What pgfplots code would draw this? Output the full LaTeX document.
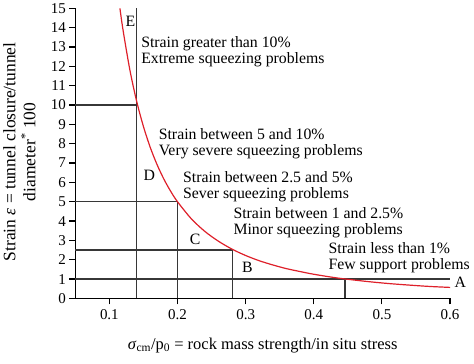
\documentclass[border=0pt]{standalone}
\usepackage{pgfplots}
\pgfplotsset{compat=1.18}
\usepackage{fontspec}
\setmainfont{Liberation Serif}
\definecolor{curvered}{RGB}{222,32,42}
\definecolor{gridgray}{RGB}{55,55,55}
\begin{document}
\begin{tikzpicture}
\begin{axis}[
  scale only axis,
  width=375pt, height=290.3pt,
  xmin=0.05, xmax=0.6, ymin=0, ymax=15,
  axis x line*=bottom, axis y line*=left,
  axis line style={black, line width=1.2pt},
  clip=false,
  xtick={0.1,0.2,0.3,0.4,0.5,0.6},
  ytick={0,1,2,3,4,5,6,7,8,9,10,11,12,13,14,15},
  tick align=outside,
  major tick length=6pt,
  tick style={black, line width=1.2pt},
  /pgf/number format/assume math mode=true,
  xticklabel style={font=\fontsize{15}{15}\selectfont, /pgf/number format/fixed, /pgf/number format/precision=1, yshift=-2pt},
  yticklabel style={font=\fontsize{15}{15}\selectfont},
  xlabel={\textit{σ}\textsubscript{cm}/p\textsubscript{0} = rock mass strength/in situ stress},
  xlabel style={font=\fontsize{16.5}{17}\selectfont, at={(axis description cs:0.5,-0.1615)}, anchor=center},
  ylabel={Strain \textit{ε} = tunnel closure/tunnel\\diameter\textsuperscript{*} 100},
  ylabel style={font=\fontsize{17.5}{20}\selectfont, align=center, at={(axis description cs:-0.149,0.505)}, anchor=center, rotate=0},
]
% grid / boundary lines
\addplot[gridgray, line width=1.3pt] coordinates {(0.05,10) (0.14,10)};
\addplot[gridgray, line width=1.3pt] coordinates {(0.14,0) (0.14,15)};
\addplot[gridgray, line width=1.3pt] coordinates {(0.05,5) (0.2,5)};
\addplot[gridgray, line width=1.3pt] coordinates {(0.2,0) (0.2,5)};
\addplot[gridgray, line width=1.3pt] coordinates {(0.05,2.5) (0.281,2.5)};
\addplot[gridgray, line width=1.3pt] coordinates {(0.281,0) (0.281,2.5)};
\addplot[gridgray, line width=1.3pt] coordinates {(0.05,1) (0.6,1)};
\addplot[gridgray, line width=1.3pt] coordinates {(0.446,0) (0.446,1)};
% squeezing curve
\addplot[curvered, line width=1.2pt, smooth] coordinates {
(0.1155,15.0) (0.12,13.89) (0.13,11.83) (0.14,10.20) (0.15,8.89)
(0.16,7.81) (0.17,6.92) (0.18,6.17) (0.19,5.54) (0.20,5.00)
(0.22,4.13) (0.24,3.47) (0.26,2.96) (0.28,2.55) (0.30,2.22)
(0.32,1.95) (0.34,1.73) (0.36,1.54) (0.38,1.39) (0.40,1.25)
(0.43,1.08) (0.45,0.99) (0.48,0.87) (0.51,0.77) (0.54,0.69)
(0.57,0.62) (0.60,0.57)};
% labels
\begin{scope}[every node/.style={font=\fontsize{15.8}{16}\selectfont, inner sep=0pt}]
\node[anchor=west, align=left] at (axis cs:0.1465,12.75) {Strain greater than 10\%\\Extreme squeezing problems};
\node[anchor=west, align=left] at (axis cs:0.1723,8.0) {Strain between 5 and 10\%\\Very severe squeezing problems};
\node[anchor=west, align=left] at (axis cs:0.208,5.77) {Strain between 2.5 and 5\%\\Sever squeezing problems};
\node[anchor=west, align=left] at (axis cs:0.282,3.9) {Strain between 1 and 2.5\%\\Minor squeezing problems};
\node[anchor=west, align=left] at (axis cs:0.4215,2.12) {Strain less than 1\%\\Few support problems};
\node at (axis cs:0.1308,14.35) {E};
\node at (axis cs:0.1587,6.39) {D};
\node at (axis cs:0.226,3.05) {C};
\node at (axis cs:0.3026,1.6) {B};
\node at (axis cs:0.615,0.83) {A};
\end{scope}
\coordinate (bbsw) at (axis description cs:-0.2,-0.2239);
\coordinate (bbne) at (axis description cs:1.064,1.0196);
\end{axis}
\path (bbsw) rectangle (bbne);
\end{tikzpicture}
\end{document}
